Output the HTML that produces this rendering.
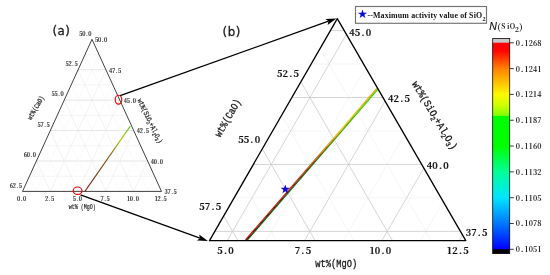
<!DOCTYPE html>
<html><head><meta charset="utf-8"><title>Ternary diagram</title>
<style>html,body{margin:0;padding:0;background:#fff}body{width:550px;height:275px;overflow:hidden}svg{display:block}</style></head>
<body>
<svg width="550" height="275" viewBox="0 0 550 275">
<defs>
<clipPath id="cb"><polygon points="337.3,18.6 209.5,240.6 465.8,240.6"/></clipPath>
<clipPath id="ca"><polygon points="92,39.3 22.5,191.4 161.5,191.4"/></clipPath>
<linearGradient id="cbar" x1="0" y1="0" x2="0" y2="1">
<stop offset="0" stop-color="#ff0000"/>
<stop offset="0.04" stop-color="#ff0400"/>
<stop offset="0.126" stop-color="#ff8200"/>
<stop offset="0.25" stop-color="#fff800"/>
<stop offset="0.30" stop-color="#d0ff00"/>
<stop offset="0.352" stop-color="#84ff00"/>
<stop offset="0.356" stop-color="#00ff00"/>
<stop offset="0.50" stop-color="#00ff00"/>
<stop offset="0.625" stop-color="#00ff96"/>
<stop offset="0.75" stop-color="#00e6ff"/>
<stop offset="0.875" stop-color="#0078ff"/>
<stop offset="1" stop-color="#0000ff"/>
</linearGradient>
<linearGradient id="gl" gradientUnits="userSpaceOnUse" x1="246" y1="240.4" x2="377.3" y2="88.9"><stop offset="0" stop-color="#e00000"/><stop offset="0.33" stop-color="#e81000"/><stop offset="0.5" stop-color="#e84800"/><stop offset="0.6" stop-color="#f88000"/><stop offset="0.68" stop-color="#ffb000"/><stop offset="0.75" stop-color="#ffd800"/><stop offset="0.82" stop-color="#d8d000"/><stop offset="0.88" stop-color="#e8b000"/><stop offset="0.93" stop-color="#ff9800"/><stop offset="1" stop-color="#ff9000"/></linearGradient>
<linearGradient id="gm" gradientUnits="userSpaceOnUse" x1="246" y1="240.4" x2="377.3" y2="88.9"><stop offset="0" stop-color="#000000"/><stop offset="0.3" stop-color="#100800"/><stop offset="0.45" stop-color="#301800"/><stop offset="0.55" stop-color="#603800"/><stop offset="0.62" stop-color="#906000"/><stop offset="0.72" stop-color="#a89800"/><stop offset="0.78" stop-color="#807000"/><stop offset="0.85" stop-color="#90b000"/><stop offset="1" stop-color="#70d000"/></linearGradient>
<linearGradient id="gr" gradientUnits="userSpaceOnUse" x1="246" y1="240.4" x2="377.3" y2="88.9"><stop offset="0" stop-color="#006000"/><stop offset="0.35" stop-color="#107010"/><stop offset="0.6" stop-color="#208010"/><stop offset="0.75" stop-color="#30b000"/><stop offset="0.9" stop-color="#20d800"/><stop offset="1" stop-color="#20e000"/></linearGradient>
<linearGradient id="ga" gradientUnits="userSpaceOnUse" x1="84.9" y1="191.4" x2="130.3" y2="126.1">
<stop offset="0" stop-color="#7c2414"/>
<stop offset="0.35" stop-color="#7c3c18"/>
<stop offset="0.6" stop-color="#8c7410"/>
<stop offset="0.8" stop-color="#a8c808"/>
<stop offset="1" stop-color="#54c810"/>
</linearGradient>
</defs>
<rect width="550" height="275" fill="#fff"/>
<g stroke-width="0.6" fill="none"><line x1="29.45" y1="176.19" x2="154.55" y2="176.19" stroke="#ececec"/><line x1="36.40" y1="191.40" x2="98.95" y2="54.51" stroke="#f5f5f5"/><line x1="36.40" y1="191.40" x2="29.45" y2="176.19" stroke="#f5f5f5"/><line x1="36.40" y1="160.98" x2="147.60" y2="160.98" stroke="#d4d4d4"/><line x1="50.30" y1="191.40" x2="105.90" y2="69.72" stroke="#e9e9e9"/><line x1="50.30" y1="191.40" x2="36.40" y2="160.98" stroke="#e9e9e9"/><line x1="43.35" y1="145.77" x2="140.65" y2="145.77" stroke="#ececec"/><line x1="64.20" y1="191.40" x2="112.85" y2="84.93" stroke="#f5f5f5"/><line x1="64.20" y1="191.40" x2="43.35" y2="145.77" stroke="#f5f5f5"/><line x1="50.30" y1="130.56" x2="133.70" y2="130.56" stroke="#d4d4d4"/><line x1="78.10" y1="191.40" x2="119.80" y2="100.14" stroke="#e9e9e9"/><line x1="78.10" y1="191.40" x2="50.30" y2="130.56" stroke="#e9e9e9"/><line x1="57.25" y1="115.35" x2="126.75" y2="115.35" stroke="#ececec"/><line x1="92.00" y1="191.40" x2="126.75" y2="115.35" stroke="#f5f5f5"/><line x1="92.00" y1="191.40" x2="57.25" y2="115.35" stroke="#f5f5f5"/><line x1="64.20" y1="100.14" x2="119.80" y2="100.14" stroke="#d4d4d4"/><line x1="105.90" y1="191.40" x2="133.70" y2="130.56" stroke="#e9e9e9"/><line x1="105.90" y1="191.40" x2="64.20" y2="100.14" stroke="#e9e9e9"/><line x1="71.15" y1="84.93" x2="112.85" y2="84.93" stroke="#ececec"/><line x1="119.80" y1="191.40" x2="140.65" y2="145.77" stroke="#f5f5f5"/><line x1="119.80" y1="191.40" x2="71.15" y2="84.93" stroke="#f5f5f5"/><line x1="78.10" y1="69.72" x2="105.90" y2="69.72" stroke="#d4d4d4"/><line x1="133.70" y1="191.40" x2="147.60" y2="160.98" stroke="#e9e9e9"/><line x1="133.70" y1="191.40" x2="78.10" y2="69.72" stroke="#e9e9e9"/><line x1="85.05" y1="54.51" x2="98.95" y2="54.51" stroke="#ececec"/><line x1="147.60" y1="191.40" x2="154.55" y2="176.19" stroke="#f5f5f5"/><line x1="147.60" y1="191.40" x2="85.05" y2="54.51" stroke="#f5f5f5"/></g>
<line x1="84.9" y1="191.4" x2="130.3" y2="126.1" stroke="url(#ga)" stroke-width="1.05"/>
<polygon points="92.0,39.3 22.5,191.4 161.5,191.4" fill="none" stroke="#2a2a2a" stroke-width="0.9" stroke-linejoin="miter"/>
<text font-family="Noto Serif CJK SC, Liberation Serif, serif" font-weight="700" font-size="5.42" fill="#2a2a2a" stroke="#2a2a2a" stroke-width="0.11" x="9.79 12.79 16.49 18.79" y="187.61">62.5</text>
<text font-family="Noto Serif CJK SC, Liberation Serif, serif" font-weight="700" font-size="5.42" fill="#2a2a2a" stroke="#2a2a2a" stroke-width="0.11" x="23.69 26.69 30.39 32.69" y="157.19">60.0</text>
<text font-family="Noto Serif CJK SC, Liberation Serif, serif" font-weight="700" font-size="5.42" fill="#2a2a2a" stroke="#2a2a2a" stroke-width="0.11" x="37.59 40.61 44.29 46.59" y="126.77">57.5</text>
<text font-family="Noto Serif CJK SC, Liberation Serif, serif" font-weight="700" font-size="5.42" fill="#2a2a2a" stroke="#2a2a2a" stroke-width="0.11" x="51.49 54.49 58.19 60.49" y="96.35">55.0</text>
<text font-family="Noto Serif CJK SC, Liberation Serif, serif" font-weight="700" font-size="5.42" fill="#2a2a2a" stroke="#2a2a2a" stroke-width="0.11" x="65.39 68.39 72.09 74.39" y="65.93">52.5</text>
<text font-family="Noto Serif CJK SC, Liberation Serif, serif" font-weight="700" font-size="5.42" fill="#2a2a2a" stroke="#2a2a2a" stroke-width="0.11" x="79.29 82.29 85.99 88.29" y="35.51">50.0</text>
<text font-family="Noto Serif CJK SC, Liberation Serif, serif" font-weight="700" font-size="5.42" fill="#2a2a2a" stroke="#2a2a2a" stroke-width="0.11" x="95.09 98.09 101.79 104.09" y="42.21">50.0</text>
<text font-family="Noto Serif CJK SC, Liberation Serif, serif" font-weight="700" font-size="5.42" fill="#2a2a2a" stroke="#2a2a2a" stroke-width="0.11" x="108.99 112.01 115.69 117.99" y="72.63">47.5</text>
<text font-family="Noto Serif CJK SC, Liberation Serif, serif" font-weight="700" font-size="5.42" fill="#2a2a2a" stroke="#2a2a2a" stroke-width="0.11" x="123.69 126.69 130.39 132.69" y="103.05">45.0</text>
<text font-family="Noto Serif CJK SC, Liberation Serif, serif" font-weight="700" font-size="5.42" fill="#2a2a2a" stroke="#2a2a2a" stroke-width="0.11" x="136.79 139.79 143.49 145.79" y="133.47">42.5</text>
<text font-family="Noto Serif CJK SC, Liberation Serif, serif" font-weight="700" font-size="5.42" fill="#2a2a2a" stroke="#2a2a2a" stroke-width="0.11" x="150.69 153.69 157.39 159.69" y="163.89">40.0</text>
<text font-family="Noto Serif CJK SC, Liberation Serif, serif" font-weight="700" font-size="5.42" fill="#2a2a2a" stroke="#2a2a2a" stroke-width="0.11" x="164.59 167.61 171.29 173.59" y="194.31">37.5</text>
<text font-family="Noto Serif CJK SC, Liberation Serif, serif" font-weight="700" font-size="5.42" fill="#2a2a2a" stroke="#2a2a2a" stroke-width="0.11" x="17.09 20.79 23.09" y="200.91">0.0</text>
<text font-family="Noto Serif CJK SC, Liberation Serif, serif" font-weight="700" font-size="5.42" fill="#2a2a2a" stroke="#2a2a2a" stroke-width="0.11" x="44.89 48.59 50.89" y="200.91">2.5</text>
<text font-family="Noto Serif CJK SC, Liberation Serif, serif" font-weight="700" font-size="5.42" fill="#2a2a2a" stroke="#2a2a2a" stroke-width="0.11" x="72.69 76.39 78.69" y="200.91">5.0</text>
<text font-family="Noto Serif CJK SC, Liberation Serif, serif" font-weight="700" font-size="5.42" fill="#2a2a2a" stroke="#2a2a2a" stroke-width="0.11" x="100.51 104.19 106.49" y="200.91">7.5</text>
<text font-family="Noto Serif CJK SC, Liberation Serif, serif" font-weight="700" font-size="5.42" fill="#2a2a2a" stroke="#2a2a2a" stroke-width="0.11" x="127.14 129.79 133.49 135.79" y="200.91">10.0</text>
<text font-family="Noto Serif CJK SC, Liberation Serif, serif" font-weight="700" font-size="5.42" fill="#2a2a2a" stroke="#2a2a2a" stroke-width="0.11" x="154.94 157.59 161.29 163.59" y="200.91">12.5</text>
<g transform="translate(35.6,107.8) rotate(-60)"><text font-family="Liberation Mono, monospace" font-size="7.20" fill="#111" stroke="#111" stroke-width="0.18" text-anchor="middle" textLength="26.5" lengthAdjust="spacingAndGlyphs" y="2.38">wt%(CaO)</text></g>
<g transform="translate(82.3,206.5)"><text font-family="Liberation Mono, monospace" font-size="7.00" fill="#222" stroke="#222" stroke-width="0.18" text-anchor="middle" textLength="27.0" lengthAdjust="spacingAndGlyphs" y="2.31">wt% (MgO)</text></g>
<g transform="translate(150,121) rotate(64)"><text font-family="Liberation Mono, monospace" font-size="7.40" fill="#111" stroke="#111" stroke-width="0.19" text-anchor="middle" textLength="48.5" lengthAdjust="spacingAndGlyphs" y="2.44">wt%(SiO<tspan font-size="5.2" dy="1.5">2</tspan><tspan dy="-1.5">+Al</tspan><tspan font-size="5.2" dy="1.5">2</tspan><tspan dy="-1.5">O</tspan><tspan font-size="5.2" dy="1.5">3</tspan><tspan dy="-1.5">)</tspan></text></g>
<text font-family="DejaVu Sans, Liberation Sans, sans-serif" font-size="11.8" letter-spacing="0.5" fill="#1a1a1a" stroke="#1a1a1a" stroke-width="0.3" x="52.4" y="35.3">(a)</text>
<ellipse cx="118.5" cy="99.7" rx="3.3" ry="4.4" fill="none" stroke="#f00000" stroke-width="1.15"/>
<ellipse cx="77.6" cy="190.7" rx="4.4" ry="3.7" fill="none" stroke="#f00000" stroke-width="1.15"/>
<line x1="120.20" y1="95.60" x2="328.49" y2="21.22" stroke="#000" stroke-width="1.30"/><polygon points="336.40,18.40 327.59,24.94 328.49,21.22 325.44,18.92" fill="#000"/>
<line x1="80.50" y1="194.80" x2="200.00" y2="238.14" stroke="#000" stroke-width="1.30"/><polygon points="207.90,241.00 196.94,240.43 200.00,238.14 199.12,234.41" fill="#000"/>
<g clip-path="url(#cb)" fill="none"><g stroke="#f3f3f3" stroke-width="0.8"><line x1="250.25" y1="0.00" x2="91.48" y2="275.00"/><line x1="-16.95" y1="0.00" x2="141.82" y2="275.00"/><line x1="327.55" y1="0.00" x2="168.78" y2="275.00"/><line x1="60.35" y1="0.00" x2="219.12" y2="275.00"/><line x1="200" y1="197.93" x2="470" y2="197.93"/><line x1="404.85" y1="0.00" x2="246.08" y2="275.00"/><line x1="137.65" y1="0.00" x2="296.42" y2="275.00"/><line x1="200" y1="130.98" x2="470" y2="130.98"/><line x1="482.15" y1="0.00" x2="323.38" y2="275.00"/><line x1="214.95" y1="0.00" x2="373.72" y2="275.00"/><line x1="200" y1="64.04" x2="470" y2="64.04"/><line x1="559.45" y1="0.00" x2="400.68" y2="275.00"/><line x1="292.25" y1="0.00" x2="451.02" y2="275.00"/><line x1="636.75" y1="0.00" x2="477.98" y2="275.00"/><line x1="369.55" y1="0.00" x2="528.32" y2="275.00"/><line x1="714.05" y1="0.00" x2="555.28" y2="275.00"/><line x1="446.85" y1="0.00" x2="605.62" y2="275.00"/><line x1="791.35" y1="0.00" x2="632.58" y2="275.00"/><line x1="524.15" y1="0.00" x2="682.92" y2="275.00"/><line x1="868.65" y1="0.00" x2="709.88" y2="275.00"/><line x1="601.45" y1="0.00" x2="760.22" y2="275.00"/><line x1="945.95" y1="0.00" x2="787.18" y2="275.00"/><line x1="678.75" y1="0.00" x2="837.52" y2="275.00"/></g><g stroke="#cccccc" stroke-width="0.8"><line x1="211.60" y1="0.00" x2="52.83" y2="275.00"/><line x1="-55.60" y1="0.00" x2="103.17" y2="275.00"/><line x1="288.90" y1="0.00" x2="130.13" y2="275.00"/><line x1="21.70" y1="0.00" x2="180.47" y2="275.00"/><line x1="200" y1="231.40" x2="470" y2="231.40"/><line x1="366.20" y1="0.00" x2="207.43" y2="275.00"/><line x1="99.00" y1="0.00" x2="257.77" y2="275.00"/><line x1="200" y1="164.46" x2="470" y2="164.46"/><line x1="443.50" y1="0.00" x2="284.73" y2="275.00"/><line x1="176.30" y1="0.00" x2="335.07" y2="275.00"/><line x1="200" y1="97.51" x2="470" y2="97.51"/><line x1="520.80" y1="0.00" x2="362.03" y2="275.00"/><line x1="253.60" y1="0.00" x2="412.37" y2="275.00"/><line x1="200" y1="30.57" x2="470" y2="30.57"/><line x1="598.10" y1="0.00" x2="439.33" y2="275.00"/><line x1="330.90" y1="0.00" x2="489.67" y2="275.00"/><line x1="675.40" y1="0.00" x2="516.63" y2="275.00"/><line x1="408.20" y1="0.00" x2="566.97" y2="275.00"/><line x1="752.70" y1="0.00" x2="593.93" y2="275.00"/><line x1="485.50" y1="0.00" x2="644.27" y2="275.00"/><line x1="830.00" y1="0.00" x2="671.23" y2="275.00"/><line x1="562.80" y1="0.00" x2="721.57" y2="275.00"/><line x1="907.30" y1="0.00" x2="748.53" y2="275.00"/><line x1="640.10" y1="0.00" x2="798.87" y2="275.00"/></g></g>
<g clip-path="url(#cb)">
<line x1="246.60" y1="240.92" x2="377.90" y2="89.42" stroke="url(#gr)" stroke-width="1.05"/>
<line x1="246.00" y1="240.40" x2="377.30" y2="88.90" stroke="url(#gm)" stroke-width="0.9"/>
<line x1="245.40" y1="239.88" x2="376.70" y2="88.38" stroke="url(#gl)" stroke-width="1.05"/>
</g>
<polygon points="337.3,18.6 209.5,240.6 465.8,240.6" fill="none" stroke="#000" stroke-width="1.3" stroke-linejoin="round"/>
<polygon points="285.30,184.40 286.45,187.71 289.96,187.79 287.16,189.91 288.18,193.26 285.30,191.26 282.42,193.26 283.44,189.91 280.64,187.79 284.15,187.71" fill="#0a0ad8"/>
<text font-family="Noto Serif CJK SC, Liberation Serif, serif" font-weight="700" font-size="9.18" fill="#111" stroke="#111" stroke-width="0.20" x="199.32 204.85 211.51 215.82" y="209.94">57.5</text>
<text font-family="Noto Serif CJK SC, Liberation Serif, serif" font-weight="700" font-size="9.18" fill="#111" stroke="#111" stroke-width="0.20" x="238.17 243.67 250.36 254.68" y="143.24">55.0</text>
<text font-family="Noto Serif CJK SC, Liberation Serif, serif" font-weight="700" font-size="9.18" fill="#111" stroke="#111" stroke-width="0.20" x="277.02 282.52 289.21 293.52" y="76.54">52.5</text>
<text font-family="Noto Serif CJK SC, Liberation Serif, serif" font-weight="700" font-size="9.18" fill="#111" stroke="#111" stroke-width="0.20" x="349.23 354.72 361.41 365.73" y="35.74">45.0</text>
<text font-family="Noto Serif CJK SC, Liberation Serif, serif" font-weight="700" font-size="9.18" fill="#111" stroke="#111" stroke-width="0.20" x="388.03 393.52 400.21 404.52" y="102.44">42.5</text>
<text font-family="Noto Serif CJK SC, Liberation Serif, serif" font-weight="700" font-size="9.18" fill="#111" stroke="#111" stroke-width="0.20" x="426.83 432.33 439.01 443.33" y="169.14">40.0</text>
<text font-family="Noto Serif CJK SC, Liberation Serif, serif" font-weight="700" font-size="9.18" fill="#111" stroke="#111" stroke-width="0.20" x="465.63 471.15 477.81 482.12" y="235.84">37.5</text>
<text font-family="Noto Serif CJK SC, Liberation Serif, serif" font-weight="700" font-size="9.18" fill="#111" stroke="#111" stroke-width="0.20" x="217.27 223.96 228.28" y="254.34">5.0</text>
<text font-family="Noto Serif CJK SC, Liberation Serif, serif" font-weight="700" font-size="9.18" fill="#111" stroke="#111" stroke-width="0.20" x="294.70 301.36 305.67" y="254.34">7.5</text>
<text font-family="Noto Serif CJK SC, Liberation Serif, serif" font-weight="700" font-size="9.18" fill="#111" stroke="#111" stroke-width="0.20" x="369.91 374.83 381.51 385.83" y="254.34">10.0</text>
<text font-family="Noto Serif CJK SC, Liberation Serif, serif" font-weight="700" font-size="9.18" fill="#111" stroke="#111" stroke-width="0.20" x="447.31 452.22 458.91 463.22" y="254.34">12.5</text>
<g transform="translate(336.3,263.9)"><text font-family="Liberation Mono, monospace" font-size="10.30" fill="#111" stroke="#111" stroke-width="0.26" text-anchor="middle" textLength="42.0" lengthAdjust="spacingAndGlyphs" y="3.40">wt%(MgO)</text></g>
<g transform="translate(227.7,117.8) rotate(-60)"><text font-family="Liberation Mono, monospace" font-size="10.50" fill="#111" stroke="#111" stroke-width="0.26" text-anchor="middle" textLength="42.0" lengthAdjust="spacingAndGlyphs" y="3.47">wt%(CaO)</text></g>
<g transform="translate(434.8,115.4) rotate(59)"><text font-family="Liberation Mono, monospace" font-size="10.50" fill="#111" stroke="#111" stroke-width="0.26" text-anchor="middle" textLength="78.0" lengthAdjust="spacingAndGlyphs" y="3.47">wt%(SiO<tspan font-size="7.0" dy="2.2">2</tspan><tspan dy="-2.2">+Al</tspan><tspan font-size="7.0" dy="2.2">2</tspan><tspan dy="-2.2">O</tspan><tspan font-size="7.0" dy="2.2">3</tspan><tspan dy="-2.2">)</tspan></text></g>
<text font-family="DejaVu Sans, Liberation Sans, sans-serif" font-size="11.8" letter-spacing="0.5" fill="#1a1a1a" stroke="#1a1a1a" stroke-width="0.3" x="222.6" y="36.2">(b)</text>
<rect x="355.5" y="6.5" width="131" height="16.8" fill="#fff" stroke="#737373" stroke-width="1.15"/>
<polygon points="362.50,9.40 363.63,12.65 367.07,12.72 364.33,14.79 365.32,18.08 362.50,16.12 359.68,18.08 360.67,14.79 357.93,12.72 361.37,12.65" fill="#0a0ad8"/>
<text font-family="Liberation Serif, serif" font-size="7.9" font-weight="bold" fill="#111" x="367.5" y="17.6" textLength="114.6" lengthAdjust="spacing">--Maximum activity value of SiO</text>
<text font-family="Liberation Serif, serif" font-size="6" font-weight="bold" fill="#111" x="482.4" y="20.6">2</text>
<rect x="492.7" y="38.5" width="17" height="215" fill="url(#cbar)"/>
<rect x="492.7" y="42.7" width="17" height="206.5" fill="url(#cbar)"/>
<rect x="492.7" y="38.5" width="17" height="4.2" fill="#c8c8c8"/>
<rect x="492.7" y="249.2" width="17" height="4.4" fill="#000"/>
<rect x="492.7" y="38.5" width="17" height="215.1" fill="none" stroke="#111" stroke-width="0.8"/>
<line x1="509.7" y1="42.80" x2="513.8" y2="42.80" stroke="#222" stroke-width="0.9"/>
<text font-family="Noto Serif CJK SC, Liberation Serif, serif" font-weight="700" font-size="7.09" fill="#222" stroke="#222" stroke-width="0.04" x="515.83 521.02 524.82 528.64 532.91 537.18" y="45.79">0.1268</text>
<line x1="509.7" y1="68.61" x2="513.8" y2="68.61" stroke="#222" stroke-width="0.9"/>
<text font-family="Noto Serif CJK SC, Liberation Serif, serif" font-weight="700" font-size="7.09" fill="#222" stroke="#222" stroke-width="0.04" x="515.83 521.02 524.82 528.64 532.91 537.63" y="71.60">0.1241</text>
<line x1="509.7" y1="94.42" x2="513.8" y2="94.42" stroke="#222" stroke-width="0.9"/>
<text font-family="Noto Serif CJK SC, Liberation Serif, serif" font-weight="700" font-size="7.09" fill="#222" stroke="#222" stroke-width="0.04" x="515.83 521.02 524.82 528.64 533.36 537.18" y="97.41">0.1214</text>
<line x1="509.7" y1="120.24" x2="513.8" y2="120.24" stroke="#222" stroke-width="0.9"/>
<text font-family="Noto Serif CJK SC, Liberation Serif, serif" font-weight="700" font-size="7.09" fill="#222" stroke="#222" stroke-width="0.04" x="515.83 521.02 524.82 529.09 532.91 537.20" y="123.23">0.1187</text>
<line x1="509.7" y1="146.05" x2="513.8" y2="146.05" stroke="#222" stroke-width="0.9"/>
<text font-family="Noto Serif CJK SC, Liberation Serif, serif" font-weight="700" font-size="7.09" fill="#222" stroke="#222" stroke-width="0.04" x="515.83 521.02 524.82 529.09 532.91 537.18" y="149.04">0.1160</text>
<line x1="509.7" y1="171.86" x2="513.8" y2="171.86" stroke="#222" stroke-width="0.9"/>
<text font-family="Noto Serif CJK SC, Liberation Serif, serif" font-weight="700" font-size="7.09" fill="#222" stroke="#222" stroke-width="0.04" x="515.83 521.02 524.82 529.09 532.91 537.18" y="174.85">0.1132</text>
<line x1="509.7" y1="197.68" x2="513.8" y2="197.68" stroke="#222" stroke-width="0.9"/>
<text font-family="Noto Serif CJK SC, Liberation Serif, serif" font-weight="700" font-size="7.09" fill="#222" stroke="#222" stroke-width="0.04" x="515.83 521.02 524.82 529.09 532.91 537.18" y="200.66">0.1105</text>
<line x1="509.7" y1="223.49" x2="513.8" y2="223.49" stroke="#222" stroke-width="0.9"/>
<text font-family="Noto Serif CJK SC, Liberation Serif, serif" font-weight="700" font-size="7.09" fill="#222" stroke="#222" stroke-width="0.04" x="515.83 521.02 524.82 528.64 532.93 537.18" y="226.48">0.1078</text>
<line x1="509.7" y1="249.30" x2="513.8" y2="249.30" stroke="#222" stroke-width="0.9"/>
<text font-family="Noto Serif CJK SC, Liberation Serif, serif" font-weight="700" font-size="7.09" fill="#222" stroke="#222" stroke-width="0.04" x="515.83 521.02 524.82 528.64 532.91 537.63" y="252.29">0.1051</text>
<text font-family="Liberation Sans, sans-serif" font-style="italic" font-size="10.6" fill="#111" stroke="#111" stroke-width="0.12" x="489.2" y="29.5">N</text>
<text font-family="Noto Serif CJK SC, Liberation Serif, serif" font-weight="700" font-size="8.8" fill="#111" x="497.2" y="29.6">(<tspan font-size="6.9" x="501.2 506.9 509.8" y="29.3">SiO</tspan><tspan font-size="6.6" x="515.0" y="32.4">2</tspan><tspan x="519.3" y="29.6">)</tspan></text>
</svg>
</body></html>
